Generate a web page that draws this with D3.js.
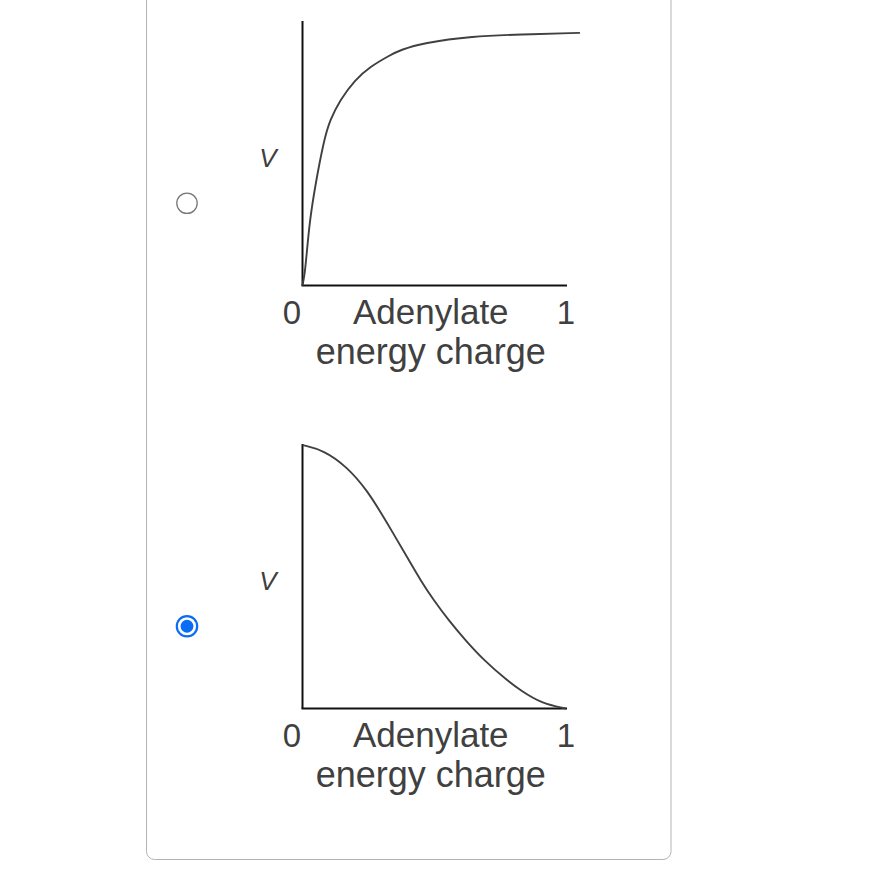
<!DOCTYPE html>
<html>
<head>
<meta charset="utf-8">
<title>adenylate energy charge</title>
<style>
  html, body { margin: 0; padding: 0; background: #fff; }
  svg { display: block; font-family: "Liberation Sans", Arial, Helvetica, sans-serif; }
</style>
</head>
<body>
<div id="chart"></div>
<script src="https://cdn.jsdelivr.net/npm/d3@7"></script>
<script>
// values (x = energy charge 0..1, y = relative rate v)
var risingX  = [0, 0.009, 0.016, 0.028, 0.047, 0.081, 0.104, 0.142, 0.198, 0.255, 0.331, 0.369, 0.455, 0.643, 0.821, 1.049];
var risingY  = [0, 0.047, 0.123, 0.248, 0.372, 0.550, 0.626, 0.701, 0.777, 0.827, 0.871, 0.890, 0.917, 0.943, 0.949, 0.955];
var fallingX = [0, 0.080, 0.168, 0.244, 0.314, 0.402, 0.446, 0.496, 0.553, 0.616, 0.686, 0.774, 0.825, 0.904, 0.995];
var fallingY = [0.996, 0.977, 0.914, 0.826, 0.712, 0.561, 0.485, 0.409, 0.333, 0.258, 0.182, 0.106, 0.068, 0.019, 0];
var xTicks = [0, 1];
var xTitle = ["Adenylate", "energy charge"];
var yTitle = "V";
var checked = [false, true];

var W = 895, H = 875;
var panels = [
  { xs: risingX, ys: risingY, top: 21 },
  { xs: fallingX, ys: fallingY, top: 444 }
];
var plotH = 264.5;

var svg = d3.select('#chart')
  .append('svg')
  .attr('width', W)
  .attr('height', H);

// the answer card
svg.append('rect')
  .attr('x', 146.5)
  .attr('y', -20)
  .attr('width', 524.5)
  .attr('height', 879.5)
  .attr('rx', 8)
  .attr('fill', '#fff')
  .attr('stroke', '#b4b4b4')
  .attr('stroke-width', 1);

var line = d3.line().curve(d3.curveBasis);

panels.forEach(function(p, i) {
  var x = d3.scaleLinear().domain([0, 1]).range([302.5, 567]);
  var y = d3.scaleLinear().domain([0, 1]).range([p.top + plotH, p.top]);
  var g = svg.append('g');

  // radio button
  var cy = y(0.5) + 50;
  if (checked[i]) {
    g.append('circle').attr('cx', 187).attr('cy', cy).attr('r', 10.2)
      .attr('fill', '#fff').attr('stroke', '#0b6cf5').attr('stroke-width', 2.2);
    g.append('circle').attr('cx', 187).attr('cy', cy).attr('r', 6.4)
      .attr('fill', '#0b6cf5');
  } else {
    g.append('circle').attr('cx', 187).attr('cy', cy).attr('r', 10.2)
      .attr('fill', '#fff').attr('stroke', '#767676').attr('stroke-width', 1.3);
  }

  // axes
  g.append('line')
    .attr('x1', x(0)).attr('x2', x(0))
    .attr('y1', y(1)).attr('y2', y(0))
    .attr('stroke', '#111').attr('stroke-width', 2);
  g.append('line')
    .attr('x1', x(0) - 1).attr('x2', x(1))
    .attr('y1', y(0)).attr('y2', y(0))
    .attr('stroke', '#111').attr('stroke-width', 2);

  // curve
  var pts = p.xs.map(function(v, k) { return [x(v), y(p.ys[k])]; });
  g.append('path')
    .attr('d', line(pts))
    .attr('fill', 'none')
    .attr('stroke', '#404040')
    .attr('stroke-width', 1.9);

  // tick labels
  g.selectAll('text.tick')
    .data(xTicks)
    .enter().append('text')
    .attr('class', 'tick')
    .attr('x', function(d) { return d == 0 ? x(d) - 10.5 : x(d) - 1; })
    .attr('y', y(0) + 38.5)
    .attr('text-anchor', 'middle')
    .attr('fill', '#404040')
    .style('font-size', '33px')
    .text(function(d) { return d; });

  // x title, two lines
  g.selectAll('text.xt')
    .data(xTitle)
    .enter().append('text')
    .attr('class', 'xt')
    .attr('x', x(0.5) - 4)
    .attr('y', function(d, k) { return y(0) + 38.5 + k * 40; })
    .attr('text-anchor', 'middle')
    .attr('fill', '#404040')
    .style('font-size', function(d, k) { return k == 0 ? '35px' : '36px'; })
    .text(function(d) { return d; });

  // y title
  g.append('text')
    .attr('x', x(0) - 34.5)
    .attr('y', y(1) + 145.7)
    .attr('text-anchor', 'middle')
    .attr('fill', '#404040')
    .style('font-size', '26px')
    .style('font-style', 'italic')
    .text(yTitle);
});
</script>
</body>
</html>
